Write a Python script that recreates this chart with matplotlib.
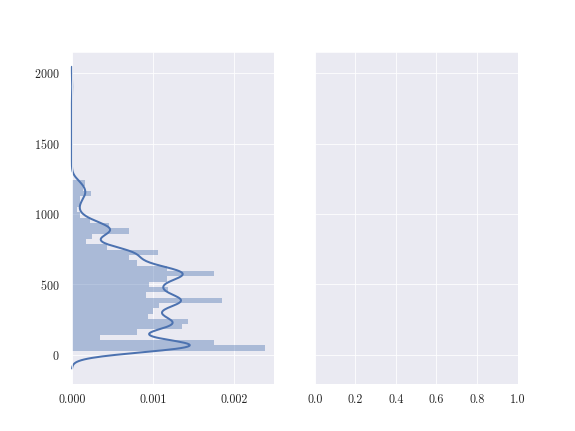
import numpy as np
import matplotlib
matplotlib.use("Agg")
import matplotlib.pyplot as plt
import seaborn as sns

# histogram: 50 bins between the data min and max,
# density per bin from bottom to top
data_min = 28.0
data_max = 1921.0
density = [0.00238, 0.00175, 0.00035, 0.00080, 0.00136, 0.00143, 0.00094,
           0.00100, 0.00107, 0.00185, 0.00091, 0.00118, 0.00095, 0.00117,
           0.00175, 0.00117, 0.00080, 0.00070, 0.00106, 0.00043, 0.00018,
           0.00025, 0.00070, 0.00046, 0.00022, 0.00010, 0.00006, 0.00010,
           0.00010, 0.00023, 0.00014, 0.00016, 0, 0, 0, 0, 0, 0, 0, 0, 0,
           0, 0, 0, 0, 0, 0, 0, 0, 0.00001]
bandwidth = 42.0

sns.set_style("darkgrid")
plt.rcParams["font.family"] = "serif"
plt.rcParams["font.serif"] = ["cmr10"]
plt.rcParams["axes.formatter.use_mathtext"] = True

edges = np.linspace(data_min, data_max, len(density) + 1)
centers = (edges[:-1] + edges[1:]) / 2
density = np.array(density)

# kernel density from the binned values
weights = density * np.diff(edges)
weights = weights / weights.sum()
grid = np.linspace(data_min - 3 * bandwidth, data_max + 3 * bandwidth, 400)
kde = (weights[None, :] * np.exp(-0.5 * ((grid[:, None] - centers[None, :]) / bandwidth) ** 2)).sum(axis=1)
kde = kde / (bandwidth * np.sqrt(2 * np.pi))

fig, (ax1, ax2) = plt.subplots(1, 2, sharey=True, figsize=(575 / 72, 431 / 72), dpi=72)

blue = "#4C72B0"
ax1.hist(centers, bins=edges, weights=density, orientation="horizontal",
         color=blue, alpha=0.4, edgecolor="none", linewidth=0)
ax1.plot(kde, grid, color=blue, lw=2, clip_on=False)
ax1.set_xticks([0, 0.001, 0.002])
ax1.xaxis.set_major_formatter(plt.FormatStrFormatter("%.3f"))
ax1.set_yticks([0, 500, 1000, 1500, 2000])

ax2.set_xlim(0, 1)
ax2.xaxis.set_major_formatter(plt.FormatStrFormatter("%.1f"))

for ax in (ax1, ax2):
    ax.tick_params(labelsize=12, pad=7)
ax1.tick_params(axis="y", pad=9)

fig.savefig("out.png", dpi=72)
